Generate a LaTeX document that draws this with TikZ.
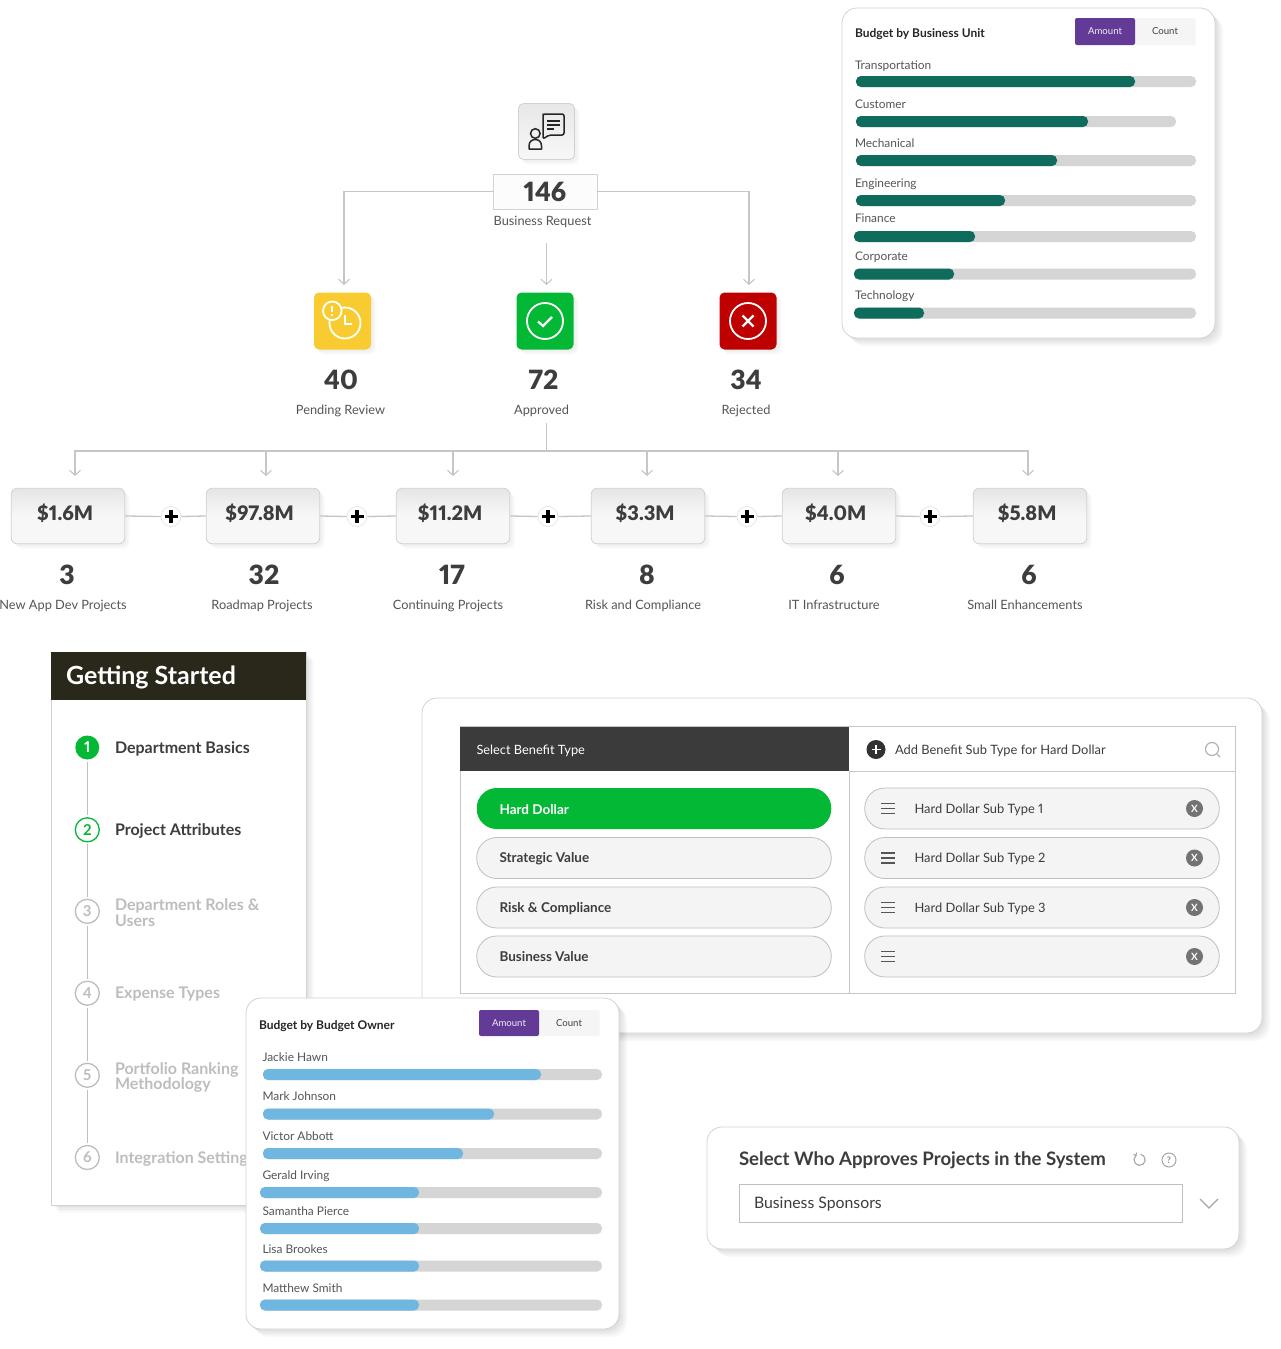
\documentclass[tikz,border=0pt]{standalone}
\usepackage{fontspec}
\setmainfont{Lato}[Numbers=Proportional]
\newfontfamily\heavy{Lato Black}[Numbers=Proportional]
\usetikzlibrary{arrows.meta,shadows,calc}
\definecolor{ink}{HTML}{3D3D3D}
\definecolor{lab}{HTML}{555555}
\definecolor{edge}{HTML}{D2D2D2}
\definecolor{wire}{HTML}{C6C6C6}
\definecolor{track}{HTML}{D5D5D5}
\definecolor{teal}{HTML}{0F6B5C}
\definecolor{sky}{HTML}{6FB6E0}
\definecolor{purple}{HTML}{633B96}
\definecolor{okgreen}{HTML}{03B835}
\definecolor{warn}{HTML}{F8CC30}
\definecolor{stop}{HTML}{BE0000}
\definecolor{headdark}{HTML}{2A281B}
\definecolor{tabdark}{HTML}{3B3B3B}
\definecolor{pale}{HTML}{BDBDBD}
\definecolor{pillbg}{HTML}{F4F4F4}
\tikzset{
  softshadow/.style={
    drop shadow={fill=black,opacity=.022,shadow xshift=8pt,shadow yshift=-8pt},
    drop shadow={fill=black,opacity=.022,shadow xshift=6.5pt,shadow yshift=-6.5pt},
    drop shadow={fill=black,opacity=.022,shadow xshift=5pt,shadow yshift=-5pt},
    drop shadow={fill=black,opacity=.022,shadow xshift=3.5pt,shadow yshift=-3.5pt},
    drop shadow={fill=black,opacity=.022,shadow xshift=2pt,shadow yshift=-2pt}},
  smallshadow/.style={
    drop shadow={fill=black,opacity=.02,shadow xshift=5pt,shadow yshift=-5pt},
    drop shadow={fill=black,opacity=.02,shadow xshift=3.5pt,shadow yshift=-3.5pt},
    drop shadow={fill=black,opacity=.02,shadow xshift=2pt,shadow yshift=-2pt}},
  cardbox/.style={softshadow,draw=edge,line width=.8pt,fill=white,rounded corners=15pt},
  flow/.style={draw=wire,line width=1.3pt,-{Straight Barb[length=5pt,width=11pt,line width=1.1pt]}},
  wireline/.style={draw=wire,line width=1.3pt},
  base/.style={inner sep=0pt,outer sep=0pt,text depth=0pt},
  bignum/.style={base,anchor=center,text=ink,text height=19pt,font=\fontsize{26.5}{30}\heavy},
  amountt/.style={base,anchor=center,text=ink,text height=14.5pt,font=\fontsize{20}{24}\heavy},
  caption/.style={base,anchor=center,text=lab,text height=9.2pt,font=\fontsize{12.8}{16}\selectfont},
  barlab/.style={base,anchor=west,text=lab,text height=8.6pt,font=\fontsize{11.9}{15}\selectfont},
  cardtitle/.style={base,anchor=west,text=black!85,text height=8.6pt,font=\fontsize{12}{15}\selectfont\bfseries},
  tile/.style={smallshadow,minimum width=57pt,minimum height=57pt,rounded corners=5pt,inner sep=0pt},
  amountbox/.style={smallshadow,draw=edge,line width=.8pt,minimum width=113.5pt,minimum height=55.5pt,rounded corners=6pt,inner sep=0pt,top color=black!10,bottom color=white!97!black,middle color=white!97!black},
  pluscirc/.style={circle,fill=white,draw=black!12,line width=.6pt,minimum size=20pt,inner sep=0pt},
  plusbar/.style={draw=black,line width=3.2pt},
  stepnum/.style={circle,minimum size=24pt,inner sep=0pt,line width=1.3pt,font=\fontsize{15}{16}\selectfont\bfseries},
  steptxt/.style={base,anchor=west,text height=11.4pt,font=\fontsize{16}{16}\selectfont\bfseries,align=left},
  pill/.style={draw=black!25,line width=.8pt,fill=pillbg,rounded corners=20pt,inner sep=0pt,minimum height=41pt},
  pilltxt/.style={base,anchor=west,text=ink,text height=9.7pt,font=\fontsize{13.5}{15}\selectfont\bfseries},
  subtxt/.style={base,anchor=west,text=ink,text height=9.3pt,font=\fontsize{12.9}{16}\selectfont},
  burger/.style={draw=lab,line width=1.5pt},
  xcirc/.style={circle,fill=black!55,minimum size=17pt,inner sep=0pt,text=white,font=\fontsize{10}{11}\selectfont\bfseries},
  toggleon/.style={fill=purple,rounded corners=2pt,inner sep=0pt,text=white!90!purple,font=\fontsize{9.6}{11}\selectfont},
  toggleoff/.style={fill=black!4,rounded corners=2pt,inner sep=0pt,text=black!75,font=\fontsize{9.6}{11}\selectfont},
}
% bar row: name, label, label x, label y, bar x, bar y, track end, fill end, colour
\newcommand{\barrow}[9]{%
  \node[barlab] (#1) at (#3,#4) {#2};
  \fill[track,rounded corners=5pt] (#5,#6-5.5) rectangle (#7,#6+5.5);
  \fill[#9,rounded corners=5pt] (#5,#6-5.5) rectangle (#8,#6+5.5);
}
\newcommand{\pluscross}[1]{%
  \draw[plusbar] ([xshift=-6.5pt]#1.center) -- ([xshift=6.5pt]#1.center);
  \draw[plusbar] ([yshift=-6.5pt]#1.center) -- ([yshift=6.5pt]#1.center);
}
\newcommand{\burgericon}[1]{%
  \foreach \d in {-5,0,5}{\draw[burger] (881,#1+\d) -- (895,#1+\d);}
}
\begin{document}
\begin{tikzpicture}[x=1pt,y=-1pt]
\useasboundingbox (0,0) rectangle (1280,1349);
\fill[white] (0,0) rectangle (1280,1349);

% ---------- Budget by Business Unit
\node[cardbox,minimum width=373pt,minimum height=330pt,inner sep=0pt] (unitcard) at (1028.5,173) {};
\node[cardtitle] (unittitle) at (855,33) {Budget by Business Unit};
\node[toggleoff,minimum width=61pt,minimum height=27pt] (unitcount) at (1165,31.5) {Count};
\node[toggleon,minimum width=60pt,minimum height=27pt] (unitamount) at (1105,31.5) {Amount};
\barrow{u1}{Transportation}{855}{65}{856}{81.5}{1196}{1135}{teal}
\barrow{u2}{Customer}{855}{104}{856}{121.5}{1176}{1088}{teal}
\barrow{u3}{Mechanical}{855}{143.5}{856}{160.5}{1196}{1057}{teal}
\barrow{u4}{Engineering}{855}{183}{856}{200.5}{1196}{1005}{teal}
\barrow{u5}{Finance}{855}{218.5}{854}{236.5}{1196}{975}{teal}
\barrow{u6}{Corporate}{855}{256.5}{854}{274}{1196}{954}{teal}
\barrow{u7}{Technology}{855}{295.5}{854}{313}{1196}{924}{teal}

% ---------- Business request tree
\node[tile,draw=edge,line width=.8pt,top color=black!9,bottom color=white!97!black,minimum width=56pt,minimum height=56pt] (reqicon) at (546.5,131.5) {};
\draw[black!85,line width=1.5pt,line join=round,rounded corners=2pt] (543,116) -- (543,139) -- (549,135) -- (564,135) -- (564,114) -- (543,114) -- cycle;
\draw[black!85,line width=1.4pt] (547,121) -- (560,121) (547,125) -- (560,125) (547,129) -- (554,129);
\draw[black!85,line width=1.5pt] (535.3,133.5) circle (4.8);
\draw[black!85,line width=1.5pt,line join=round] (529,149) -- (529,146) .. controls (529,141.5) and (532,139.5) .. (535.3,139.5) .. controls (538.5,139.5) and (541.5,141.5) .. (541.5,146) -- (541.5,149) -- cycle;

\node[draw=edge,line width=.8pt,fill=white!99!black,minimum width=104pt,minimum height=35pt,inner sep=0pt,text=ink,font=\fontsize{26.5}{30}\heavy] (reqbox) at (545,191.5) {146};
\node[caption] (reqlab) at (542.5,220.5) {Business Request};
\coordinate (pendtip) at (344,285);
\coordinate (midstart) at (546.5,243);
\coordinate (midtip) at (546.5,285);
\coordinate (rejtip) at (749,285);
\draw[flow] (reqbox.west) -| (pendtip);
\draw[flow] (midstart) -- (midtip);
\draw[flow] (reqbox.east) -| (rejtip);

\node[tile,fill=warn] (pendbox) at (342.5,321) {};
\draw[white,line width=1.8pt] (345,323) circle (15.5);
\draw[white,line width=1.8pt,fill=warn] (332.3,310.8) circle (9.3);
\draw[white,line width=2.2pt] (332,305.5) -- (332,311.5) (332,313.5) -- (332,316);
\draw[white,line width=2pt] (344.5,315) -- (344.5,323.5) -- (351.5,323.5);
\node[tile,fill=okgreen] (okbox) at (545,321) {};
\draw[white,line width=1.8pt] (545,321) circle (18);
\draw[white,line width=2.2pt] (538,321.5) -- (543,326) -- (552,317);
\node[tile,fill=stop] (rejbox) at (748,321) {};
\draw[white,line width=1.8pt] (748,321) circle (18);
\draw[white,line width=2.4pt] (742.5,315.5) -- (753.5,326.5) (753.5,315.5) -- (742.5,326.5);

\node[bignum] (n40) at (341,380) {40};
\node[caption] (l40) at (340.5,409.5) {Pending Review};
\node[bignum] (n72) at (543.5,380) {72};
\node[caption] (l72) at (541.5,409.5) {Approved};
\node[bignum] (n34) at (746,380) {34};
\node[caption] (l34) at (746,409.5) {Rejected};

% ---------- Distribution bus
\coordinate (busstart) at (546.5,423);
\coordinate (busjoin) at (546.5,451);
\draw[wireline] (busstart) -- (busjoin);
\foreach \i/\x in {1/75,2/266,3/453,4/647,5/838,6/1028}{
  \coordinate (tip\i) at (\x,476);
  \draw[flow] (busjoin) -| (tip\i);
}

% ---------- Amount boxes
\foreach \i/\x/\tx/\amt/\nx/\num/\lx/\lbl in {
  1/68/65/{\$1.6M}/67/3/63/{New App Dev Projects},
  2/263/259.5/{\$97.8M}/264/32/262/{Roadmap Projects},
  3/453/450/{\$11.2M}/452/17/448/{Continuing Projects},
  4/648/645/{\$3.3M}/647/8/643/{Risk and Compliance},
  5/839/835.5/{\$4.0M}/837/6/834/{IT Infrastructure},
  6/1030/1027/{\$5.8M}/1029/6/1025/{Small Enhancements}}{
  \node[amountbox] (b\i) at (\x,516) {};
  \node[amountt] (a\i) at (\tx,513) {\amt};
  \node[bignum] (c\i) at (\nx,575) {\num};
  \node[caption] (t\i) at (\lx,604.5) {\lbl};
}
\foreach \i/\j/\x in {1/2/171,2/3/357,3/4/548,4/5/747,5/6/930}{
  \node[pluscirc] (p\i) at (\x,516.5) {};
  \draw[wireline] (b\i.east) -- (p\i.west);
  \draw[wireline] (p\i.east) -- (b\j.west);
  \pluscross{p\i}
}

% ---------- Getting Started
\node[softshadow,draw=edge,line width=.8pt,fill=white,minimum width=254.5pt,minimum height=552.5pt,inner sep=0pt] (gspanel) at (178.7,928.7) {};
\node[fill=headdark,minimum width=254.5pt,minimum height=47.5pt,inner sep=0pt] (gshead) at (178.7,676.2) {};
\node[base,anchor=west,text=white,text height=18pt,font=\fontsize{25}{26}\selectfont\bfseries] (gstitle) at (66,675.5) {Getting Started};

\node[stepnum,fill=okgreen,text=white] (s1) at (87.3,747.5) {1};
\node[stepnum,draw=okgreen,fill=white,text=okgreen] (s2) at (87.3,829.8) {2};
\node[stepnum,draw=pale,fill=white,text=pale] (s3) at (87.3,911.3) {3};
\node[stepnum,draw=pale,fill=white,text=pale] (s4) at (87.3,993.2) {4};
\node[stepnum,draw=pale,fill=white,text=pale] (s5) at (87.3,1075.3) {5};
\node[stepnum,draw=pale,fill=white,text=pale] (s6) at (87.3,1157.5) {6};
\foreach \a/\b in {s1/s2,s2/s3,s3/s4,s4/s5,s5/s6}{
  \draw[draw=black!25,line width=1.4pt,shorten <=2pt,shorten >=2pt] (\a) -- (\b);
}
\node[steptxt,text=ink] (st1) at (115,747.5) {Department Basics};
\node[steptxt,text=ink] (st2) at (115,830) {Project Attributes};
\node[steptxt,text=pale] (st3a) at (115,905) {Department Roles \&};
\node[steptxt,text=pale] (st3b) at (115,920.5) {Users};
\node[steptxt,text=pale] (st4) at (115,993) {Expense Types};
\node[steptxt,text=pale] (st5a) at (115,1068.5) {Portfolio Ranking};
\node[steptxt,text=pale] (st5b) at (115,1084) {Methodology};
\node[steptxt,text=pale] (st6) at (115,1157.5) {Integration Settings};

% ---------- Benefit card
\node[cardbox,minimum width=840pt,minimum height=335pt,inner sep=0pt] (bencard) at (842,865.5) {};
\node[draw=black!22,line width=.9pt,fill=white,minimum width=775pt,minimum height=266.5pt,inner sep=0pt] (bentable) at (848,859.8) {};
\node[fill=tabdark,minimum width=388.5pt,minimum height=44.5pt,inner sep=0pt] (bentab) at (654.7,749) {};
\node[base,anchor=west,text=white,text height=9.2pt,font=\fontsize{12.8}{16}\selectfont] (bentabt) at (476.5,749.5) {Select Benefit Type};
\draw[draw=black!22,line width=1.2pt] (bentab.south east) -- (bentable.east |- bentab.south);
\draw[draw=black!22,line width=1.2pt] (bentab.south east) -- (bentab.south east |- bentable.south);
\node[circle,fill=black!80,minimum size=19pt,inner sep=0pt] (addc) at (876,749.5) {};
\draw[white,line width=1.8pt] ([xshift=-4.5pt]addc.center) -- ([xshift=4.5pt]addc.center) ([yshift=-4.5pt]addc.center) -- ([yshift=4.5pt]addc.center);
\node[subtxt] (addt) at (895,749.5) {Add Benefit Sub Type for Hard Dollar};
\draw[black!30,line width=1.2pt] (1212,749) circle (6.5);
\draw[black!30,line width=1.2pt] (1217,754) -- (1220,757);

\node[pill,fill=okgreen,draw=none,minimum width=354.5pt] (t1) at (654,808.5) {};
\node[pilltxt,text=white] (t1t) at (499.5,809.5) {Hard Dollar};
\node[pill,minimum width=354.5pt] (t2) at (654,858) {};
\node[pilltxt] (t2t) at (499.5,858) {Strategic Value};
\node[pill,minimum width=354.5pt] (t3) at (654,907.5) {};
\node[pilltxt] (t3t) at (499.5,908) {Risk \& Compliance};
\node[pill,minimum width=354.5pt] (t4) at (654,956.5) {};
\node[pilltxt] (t4t) at (499.5,956.5) {Business Value};

\node[pill,minimum width=354.5pt] (r1) at (1042,808.5) {};
\burgericon{808.5}
\node[subtxt] (r1t) at (914.5,808.5) {Hard Dollar Sub Type 1};
\node[xcirc] (r1x) at (1194.5,808.5) {X};
\node[pill,minimum width=354.5pt] (r2) at (1042,858) {};
\burgericon{858}
\node[subtxt] (r2t) at (914.5,858) {Hard Dollar Sub Type 2};
\node[xcirc] (r2x) at (1194.5,858) {X};
\node[pill,minimum width=354.5pt] (r3) at (1042,907.5) {};
\burgericon{907.5}
\node[subtxt] (r3t) at (914.5,907.5) {Hard Dollar Sub Type 3};
\node[xcirc] (r3x) at (1194.5,907.5) {X};
\node[pill,minimum width=354.5pt] (r4) at (1042,956.5) {};
\burgericon{956.5}
\node[xcirc] (r4x) at (1194.5,956.5) {X};

% ---------- Budget by Budget Owner
\node[cardbox,minimum width=373pt,minimum height=331pt,inner sep=0pt] (ownercard) at (432.5,1163.5) {};
\node[cardtitle] (ownertitle) at (259,1025) {Budget by Budget Owner};
\node[toggleoff,minimum width=61pt,minimum height=26pt] (ownercount) at (569,1023) {Count};
\node[toggleon,minimum width=60pt,minimum height=26pt] (owneramount) at (509,1023) {Amount};
\barrow{o1}{Jackie Hawn}{262.5}{1057}{263}{1074.5}{602}{541}{sky}
\barrow{o2}{Mark Johnson}{262.5}{1096.5}{263}{1114}{602}{494}{sky}
\barrow{o3}{Victor Abbott}{262.5}{1136.5}{263}{1153.5}{602}{463}{sky}
\barrow{o4}{Gerald Irving}{262.5}{1175.5}{260}{1192.5}{602}{419}{sky}
\barrow{o5}{Samantha Pierce}{262.5}{1211}{260}{1228.5}{602}{419}{sky}
\barrow{o6}{Lisa Brookes}{262.5}{1249.5}{260}{1266}{602}{419}{sky}
\barrow{o7}{Matthew Smith}{262.5}{1288.5}{260}{1305}{602}{419}{sky}

% ---------- Approver card
\node[cardbox,minimum width=532pt,minimum height=122pt,inner sep=0pt] (appcard) at (973,1188) {};
\node[base,anchor=west,text=ink,text height=13.4pt,font=\fontsize{18.6}{22}\selectfont\bfseries] (apptitle) at (739,1159) {Select Who Approves Projects in the System};
\draw[black!35,line width=1.1pt] (1136,1155.5) arc[start angle=-130,end angle=-440,radius=5.6];
\draw[black!35,line width=1.1pt] (1133.5,1154.5) -- (1136,1155.5) -- (1136.5,1152.5);
\node[circle,draw=black!35,line width=1pt,minimum size=14pt,inner sep=0pt,text=black!45,font=\fontsize{9}{9}\selectfont\bfseries] (apphelp) at (1169,1160) {?};
\node[draw=black!25,line width=.9pt,fill=white,minimum width=442.5pt,minimum height=38pt,inner sep=0pt] (appinput) at (960.7,1203) {};
\node[base,anchor=west,text=ink,text height=11.4pt,font=\fontsize{15.8}{18}\selectfont] (appval) at (754,1203) {Business Sponsors};
\draw[black!35,line width=1.2pt] (1200,1199) -- (1209,1208) -- (1218,1199);
\end{tikzpicture}
\end{document}
